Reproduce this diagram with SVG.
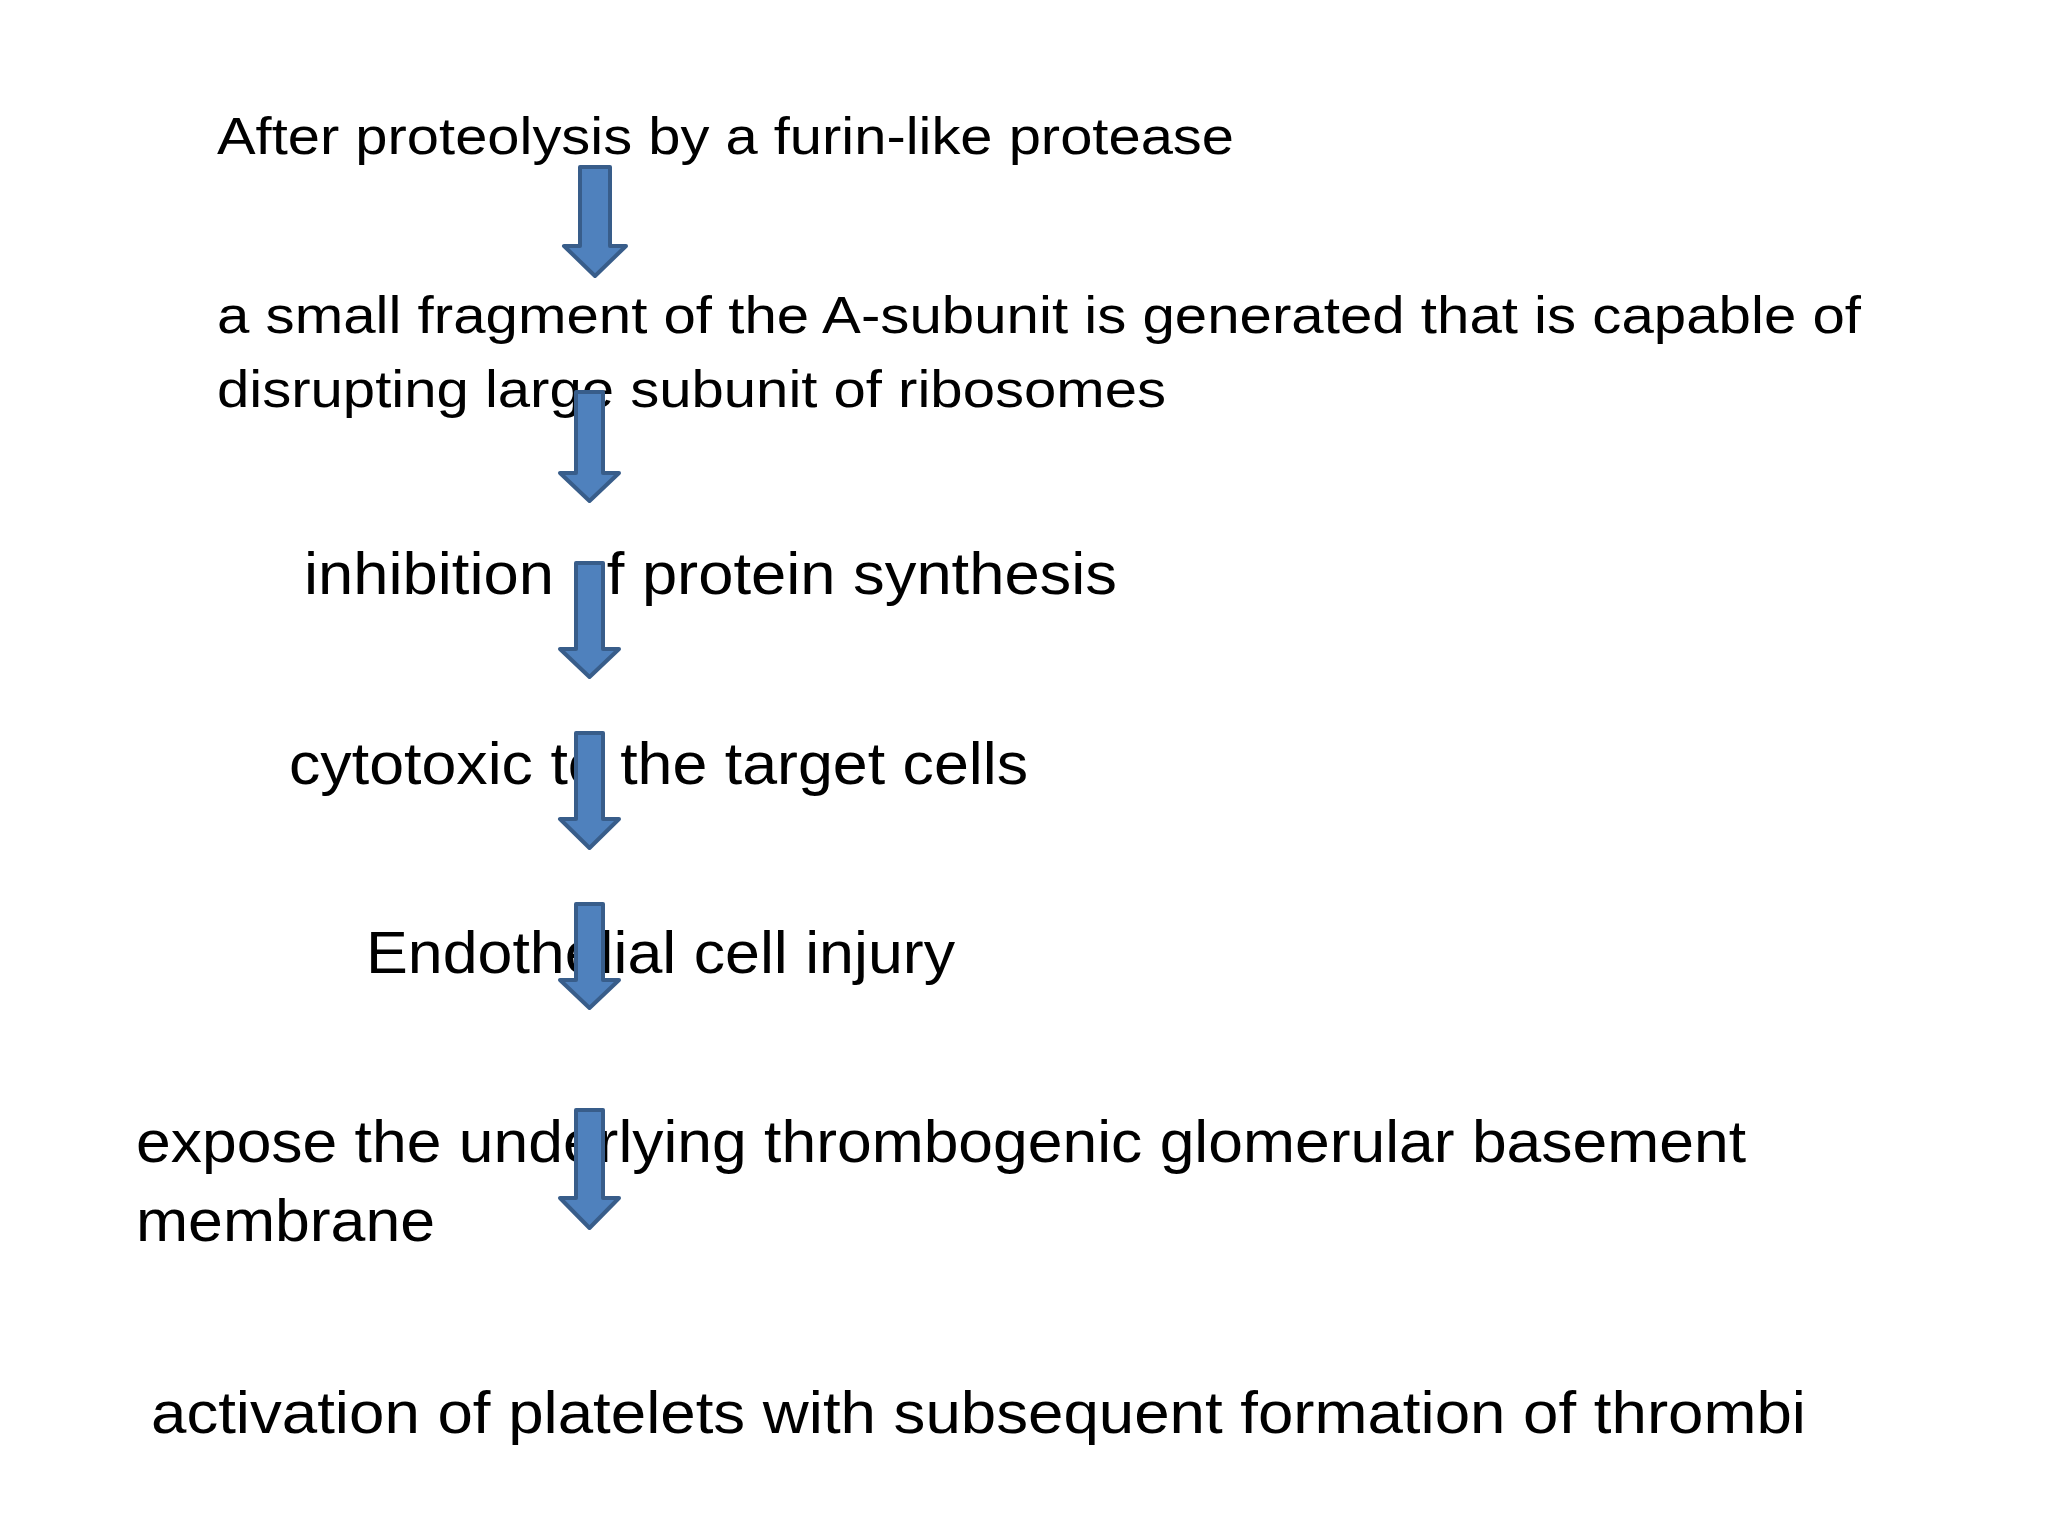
<svg xmlns="http://www.w3.org/2000/svg" width="2048" height="1536" viewBox="0 0 2048 1536">
<style>
text{font-family:"Liberation Sans Narrow","Liberation Sans",Arial,sans-serif;fill:#000}
.s{font-size:52px}.b{font-size:60px}
.arr{fill:#4F81BD;stroke:#385D8A;stroke-width:4;stroke-linejoin:round}
</style>
<rect width="2048" height="1536" fill="#fff"/>
<g id="n1"><text class="s" x="217" y="154" textLength="1017" lengthAdjust="spacingAndGlyphs">After proteolysis by a furin-like protease</text></g>
<g id="n2"><text class="s" x="217" y="333" textLength="1644" lengthAdjust="spacingAndGlyphs">a small fragment of the A-subunit  is generated that is capable of</text><text class="s" x="217" y="407" textLength="949" lengthAdjust="spacingAndGlyphs">disrupting large subunit of ribosomes</text></g>
<g id="n3"><text class="b" x="304" y="594" textLength="813" lengthAdjust="spacingAndGlyphs">inhibition of protein synthesis</text></g>
<g id="n4"><text class="b" x="289" y="784" textLength="739" lengthAdjust="spacingAndGlyphs">cytotoxic to the target cells</text></g>
<g id="n5"><text class="b" x="366" y="973" textLength="589" lengthAdjust="spacingAndGlyphs">Endothelial cell injury</text></g>
<g id="n6"><text class="b" x="136" y="1162" textLength="1610" lengthAdjust="spacingAndGlyphs">expose the underlying thrombogenic glomerular basement</text><text class="b" x="136" y="1241" textLength="299" lengthAdjust="spacingAndGlyphs">membrane</text></g>
<g id="n7"><text class="b" x="151" y="1433" textLength="1655" lengthAdjust="spacingAndGlyphs">activation of platelets with subsequent formation of thrombi</text></g>
<g id="connectors">
<path class="arr" d="M580 167H610V246H626L595 276L564 246H580Z"/>
<path class="arr" d="M576 392H603V473H619L589.5 501L560 473H576Z"/>
<path class="arr" d="M576 563H603V649H619L589.5 677L560 649H576Z"/>
<path class="arr" d="M576 733H603V819H619L589.5 848L560 819H576Z"/>
<path class="arr" d="M576 904H603V980H619L589.5 1008L560 980H576Z"/>
<path class="arr" d="M576 1110H603V1198H619L589.5 1228L560 1198H576Z"/>
</g>
</svg>
